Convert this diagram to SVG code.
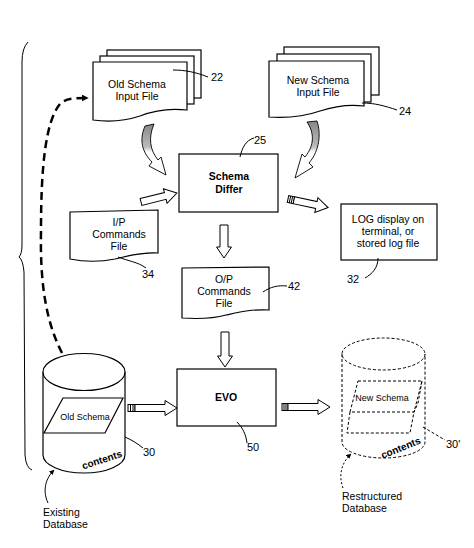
<svg xmlns="http://www.w3.org/2000/svg" width="474" height="548" viewBox="0 0 474 548">
<defs>
<style>
text{font-family:"Liberation Sans",Arial,sans-serif;fill:#000}
.t{font-size:10.5px;text-anchor:middle}
.b{font-size:10.5px;font-weight:bold;text-anchor:middle}
.n{font-size:11px}
.s{fill:#fff;stroke:#000;stroke-width:1.2}
.ln{fill:none;stroke:#000;stroke-width:1}
.dl{fill:none;stroke:#000;stroke-width:1;stroke-dasharray:3 2}
.ha{fill:#fff;stroke:#000;stroke-width:1}
</style>
<linearGradient id="g1" x1="0" y1="0" x2="0" y2="1">
<stop offset="0" stop-color="#888"/><stop offset="0.45" stop-color="#bbb"/><stop offset="0.55" stop-color="#fff"/><stop offset="1" stop-color="#fff"/>
</linearGradient>
<marker id="ah" viewBox="0 0 10 10" refX="9" refY="5" markerWidth="5" markerHeight="5" orient="auto" markerUnits="userSpaceOnUse">
<path d="M0,0 L10,5 L0,10 Z" fill="#000"/>
</marker>
<marker id="ah2" viewBox="0 0 10 10" refX="9" refY="5" markerWidth="7" markerHeight="7" orient="auto" markerUnits="userSpaceOnUse">
<path d="M0,0 L10,5 L0,10 Z" fill="#000"/>
</marker>
</defs>

<!-- brace -->
<path class="ln" d="M28,42 Q22,48 22,62 L22,245 Q22,254 19,257 Q23,260 24,272 L25,455 Q26,468 32,470"/>

<g id="connectors">
<path d="M62,353 C45,320 40,280 41,230 C41,170 45,122 60,104 C65,99 72,98 88,98" fill="none" stroke="#000" stroke-width="2.5" stroke-dasharray="8 5" marker-end="url(#ah2)"/>
<path d="M145,126 C139,140 142,152 152,162 L149,166 L166,175 L161,157 L158,160 C150,150 148,138 154,124 Z" fill="url(#g1)" stroke="#000" stroke-width="0.9"/>
<path d="M307,122 C314,132 315,145 305,157 L302,154 L295,178 L313,167 L309,163 C320,150 321,133 317,121 Z" fill="url(#g1)" stroke="#000" stroke-width="0.9"/>
<g transform="translate(141,202) rotate(-14)"><path class="ha" d="M0,-3.5 L25,-3.5 L25,-7.5 L37,0 L25,7.5 L25,3.5 L0,3.5 Z"/></g>
<g transform="translate(288,199) rotate(12)"><rect class="ha" x="0" y="-3.5" width="6" height="7"/><path class="ln" d="M2,-3.5 V3.5 M4,-3.5 V3.5"/><path class="ha" d="M6,-3.5 L29,-3.5 L29,-7.5 L41,0 L29,7.5 L29,3.5 L6,3.5 Z"/></g>
<path class="ha" d="M220,225 L228,225 L228,247 L231.5,247 L224,258 L216.5,247 L220,247 Z"/>
<path class="ha" d="M221,332 L229,332 L229,356 L232.5,356 L225,367 L217.5,356 L221,356 Z"/>
<rect class="ha" x="128" y="404.5" width="7" height="7"/><path class="ln" d="M130.5,404.5 V411.5 M133,404.5 V411.5"/>
<path class="ha" d="M135,404.5 L165,404.5 L165,400.5 L177,408 L165,415.5 L165,411.5 L135,411.5 Z"/>
<rect class="ha" x="282" y="403.5" width="6" height="7"/><path class="ln" d="M284,403.5 V410.5 M286,403.5 V410.5"/>
<path class="ha" d="M288,403.5 L318,403.5 L318,399.5 L330,407 L318,414.5 L318,410.5 L288,410.5 Z"/>
<path class="ln" d="M48,503 C42,490 46,478 54,470" marker-end="url(#ah)"/>
<path d="M343,488 C338,475 342,462 351,454" fill="none" stroke="#000" stroke-width="1" stroke-dasharray="2 2" marker-end="url(#ah)"/>
</g>

<g id="old-schema">
<rect class="s" x="107" y="50" width="94" height="48"/>
<rect class="s" x="100" y="56" width="94" height="48"/>
<path class="s" d="M93,62 L187,62 L187,110 C170,108 155,110 140,116 C125,121 108,122 93,120 Z"/>
<text class="t" x="137" y="88" font-size="10">Old Schema</text>
<text class="t" x="137" y="100" font-size="10">Input File</text>
<path class="ln" d="M173,70 C185,70 195,72 208,77"/>
<text class="n" x="211" y="81">22</text>
</g>

<g id="new-schema">
<rect class="s" x="284" y="47" width="95" height="48"/>
<rect class="s" x="277" y="54" width="94" height="48"/>
<path class="s" d="M269,61 L364,61 L364,106 C348,104 335,106 320,111 C303,117 285,118 269,117 Z"/>
<text class="t" x="318" y="84">New Schema</text>
<text class="t" x="318" y="96">Input File</text>
<path class="ln" d="M362,103 C375,103 385,106 397,110"/>
<text class="n" x="399" y="115">24</text>
</g>

<g id="schema-differ">
<rect class="s" x="179" y="154" width="99" height="58"/>
<text class="b" x="229" y="180">Schema</text>
<text class="b" x="229" y="193">Differ</text>
<path class="ln" d="M240,157 C242,148 246,140 254,138"/>
<text class="n" x="254" y="144">25</text>
</g>

<g id="ip-commands">
<path class="s" d="M70,212 L158,210 L158,253 C140,252 128,256 115,259 C100,262 85,262 70,259 Z"/>
<text class="t" x="119" y="226">I/P</text>
<text class="t" x="119" y="238">Commands</text>
<text class="t" x="119" y="250">File</text>
<path class="ln" d="M118,257 C128,261 138,262 146,268"/>
<text class="n" x="142" y="278">34</text>
</g>

<g id="log">
<rect class="s" x="341" y="204" width="96" height="56"/>
<text class="t" x="388" y="223">LOG display on</text>
<text class="t" x="388" y="235">terminal, or</text>
<text class="t" x="388" y="247">stored log file</text>
<path class="ln" d="M378,258 C378,268 372,274 365,278"/>
<text class="n" x="347" y="283">32</text>
</g>

<g id="op-commands">
<path class="s" d="M182,268 L269,267 L269,310 C252,309 240,312 226,315 C212,319 197,319 182,318 Z"/>
<text class="t" x="224" y="283">O/P</text>
<text class="t" x="224" y="295">Commands</text>
<text class="t" x="224" y="307">File</text>
<path class="ln" d="M263,292 C270,287 278,285 287,286"/>
<text class="n" x="288" y="290">42</text>
</g>

<g id="evo">
<rect class="s" x="177" y="369" width="99" height="57"/>
<text class="b" x="226" y="401">EVO</text>
<path class="ln" d="M237,422 C243,428 246,435 247,443"/>
<text class="n" x="247" y="451">50</text>
</g>

<g id="existing-db">
<path class="s" d="M43,372 L43,455 A41,18 0 0 0 125,455 L125,372"/>
<ellipse class="s" cx="84" cy="372" rx="41" ry="18.5"/>
<path class="s" d="M63,398 L123,398 L105,433 L44,433 Z"/>
<text x="85" y="420" font-size="9" text-anchor="middle">Old Schema</text>
<text transform="translate(103,463) rotate(-18)" font-size="10" font-weight="bold" text-anchor="middle">contents</text>
<path class="ln" d="M125,437 C132,440 138,444 143,448"/>
<text class="n" x="143" y="456">30</text>
<text x="43" y="516" font-size="10.5">Existing</text>
<text x="43" y="528" font-size="10.5">Database</text>
</g>

<g id="restructured-db">
<path class="dl" d="M342,354 L342,442 A41.5,16 0 0 0 425,442 L425,354"/>
<ellipse class="dl" cx="383.5" cy="354" rx="41.5" ry="16"/>
<path class="dl" d="M358,381 L422,381 L414,412 L350,412 Z"/>
<path class="dl" d="M350,412 L347,433 L410,433 L414,412 M422,381 L418,403 L414,412"/>
<text x="382" y="401" font-size="9" text-anchor="middle">New Schema</text>
<text transform="translate(402,451) rotate(-22)" font-size="10" font-weight="bold" text-anchor="middle">contents</text>
<path class="dl" d="M423,427 L445,440"/>
<text class="n" x="446" y="448">30'</text>
<text x="342" y="500" font-size="10.5">Restructured</text>
<text x="342" y="512" font-size="10.5">Database</text>
</g>
</svg>
